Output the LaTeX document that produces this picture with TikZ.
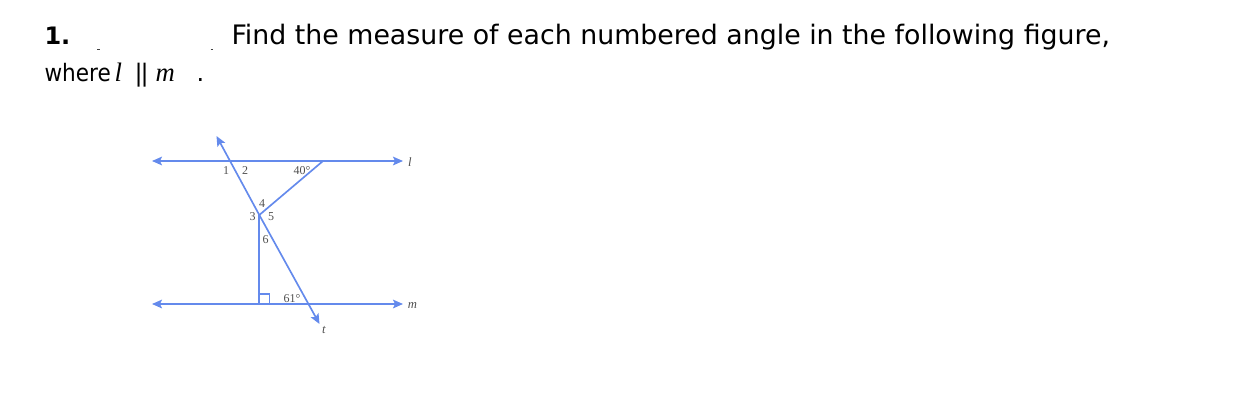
\documentclass[tikz,border=0pt]{standalone}
\usepackage{fontspec}
\setmainfont{DejaVu Sans}
\newfontfamily\figfont{Liberation Serif}
\usetikzlibrary{arrows.meta}

\tikzset{every picture/.style={line width=0.75pt}}
\definecolor{lineblue}{RGB}{100,138,236}
\definecolor{labelgray}{RGB}{80,80,80}

\begin{document}
\begin{tikzpicture}[x=0.75pt,y=0.75pt,yscale=-1,xscale=1,
	figline/.style={draw=lineblue, line width=1.25pt},
	tip/.style={-{Stealth[length=7.5pt,width=6.5pt,inset=1.5pt]}},
	figarrow/.style={figline, {Stealth[length=7.5pt,width=6.5pt,inset=1.5pt]}-{Stealth[length=7.5pt,width=6.5pt,inset=1.5pt]}},
	anglabel/.style={font=\figfont\fontsize{9}{10}\selectfont, text=labelgray, inner sep=0pt},
	linelabel/.style={font=\figfont\itshape\fontsize{9.5}{10}\selectfont, text=labelgray, inner sep=0pt},
	headtext/.style={font=\fontsize{20.1}{22}\selectfont, inner sep=0pt, anchor=base west},
	wheretext/.style={font=\fontsize{18}{20}\selectfont, inner sep=0pt, anchor=base west},
	vartext/.style={font=\figfont\itshape\fontsize{20}{22}\selectfont, inner sep=0pt, anchor=base west}]
	\path[use as bounding box] (0,0) rectangle (1238,418);

	% Question text
	\node[headtext, font=\bfseries\fontsize{18}{20}\selectfont] (num) at (44,44) {1.};
	\node[headtext] (question) at (231,44) {Find the measure of each numbered angle in the following figure,};
	\node[wheretext] (where) at (44,81.5) {\scalebox{0.9}[1]{where}};
	\node[vartext] (varl) at (114,81.5) {l};
	\node[wheretext] (par) at (134,81.5) {|\kern-1.5pt|};
	\node[vartext] (varm) at (155,81.5) {m};
	\node[wheretext] (dot) at (196,81.5) {.};
	\draw [darkgray, line width=0.7pt] (97,49) -- (99.5,49) ;
	\draw [darkgray, line width=0.7pt] (210.5,49) -- (213,49) ;

	% Points of the figure
	\coordinate (lA) at (152,161);
	\coordinate (lB) at (403,161);
	\coordinate (mA) at (152,304);
	\coordinate (mB) at (403,304);
	\coordinate (tA) at (216.5,136);
	\coordinate (tB) at (319.5,324);
	\coordinate (V) at (259.3,215);
	\coordinate (P) at (323,161);
	\coordinate (F) at (259.3,304);

	% Lines l, m and t
	\draw [figarrow] (lA) -- (lB) ;
	\draw [figarrow] (mA) -- (mB) ;
	\draw [figline, tip] (V) -- (tA) ;
	\draw [figline, tip] (V) -- (tB) ;
	% Segments from the vertex
	\draw [figline] (V) -- (P) ;
	\draw [figline] (V) -- (F) ;
	% Right angle mark
	\draw [figline, line width=0.8pt] ([yshift=-7.5pt]F) -- ([xshift=7.5pt,yshift=-7.5pt]F) -- ([xshift=7.5pt]F) ;

	% Labels
	\node[anglabel] (a1) at (226,171) {1};
	\node[anglabel] (a2) at (245,171) {2};
	\node[anglabel] (a3) at (252.5,217) {3};
	\node[anglabel] (a4) at (262,204) {4};
	\node[anglabel] (a5) at (271,217) {5};
	\node[anglabel] (a6) at (265.5,240) {6};
	\node[anglabel] (a40) at (302,171) {40°};
	\node[anglabel] (a61) at (292,299) {61°};
	\node[linelabel] (ll) at (410,162) {l};
	\node[linelabel] (lm) at (412.5,306) {m};
	\node[linelabel] (lt) at (324,330) {t};

\end{tikzpicture}
\end{document}
